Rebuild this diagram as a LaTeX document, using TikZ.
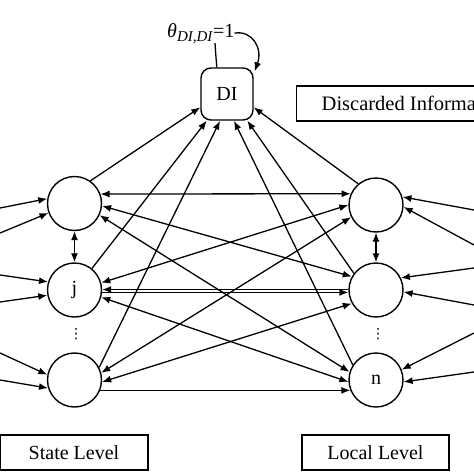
\documentclass[tikz,border=0pt]{standalone}
\usepackage{fontspec}
\setmainfont{Liberation Serif}
\newfontfamily\dejavu{DejaVu Sans}
\usetikzlibrary{arrows.meta,calc}
\begin{document}
\begin{tikzpicture}[x=1pt,y=-1pt,
  txt/.style={font=\fontsize{20}{24}\selectfont},
  circ/.style={circle,draw,line width=1.4pt,minimum size=54pt,inner sep=0pt,txt},
  arr/.style={line width=1.3pt,-{Latex[length=9pt,width=7pt]}},
  darr/.style={line width=1.3pt,{Latex[length=9pt,width=7pt]}-{Latex[length=9pt,width=7pt]}},
  plain/.style={line width=1.3pt},
  lbox/.style={draw,line width=1.4pt,minimum height=35pt,inner sep=0pt,txt}]
\useasboundingbox (0,0) rectangle (474,474);
\clip (0,0) rectangle (474,474);

% circles
\node[circ] (L1) at (74.5,203.5) {};
\node[circ] (Lj) at (74.5,290) {j};
\node[circ] (Lb) at (74.5,380) {};
\node[circ] (R1) at (376,205) {};
\node[circ] (Rj) at (376,290) {};
\node[circ] (Rn) at (376,380) {n};
\node[draw,line width=1.4pt,rounded corners=10pt,minimum width=52pt,minimum height=52pt,inner sep=0pt,txt] (DI) at (227,94) {DI};

% dots
\node[inner sep=0pt,font=\dejavu\fontsize{14}{14}\selectfont] (dL) at (76,334) {⋮};
\node[inner sep=0pt,font=\dejavu\fontsize{14}{14}\selectfont] (dR) at (378,334) {⋮};

% labels
\node[lbox,minimum width=148pt] (SL) at (74,452.5) {State Level};
\node[lbox,minimum width=147pt] (LL) at (375.5,452.5) {Local Level};
\node[lbox,anchor=west,inner xsep=25pt,font=\fontsize{20.5}{24}\selectfont] (DB) at (296,103.5) {Discarded Information};

% cross connections
\draw[darr] (L1.20) -- (R1.156);
\draw[darr] (L1.-5) -- (Rj.151);
\draw[darr] (L1.-25) -- (Rn.163);
\draw[darr] (Lj.15) -- (R1.180);
\draw[arr] (Rj.179) -- (Lj.1);
\draw[arr] (Lj.-5) -- (Rj.185);
\draw[darr] (Lj.-15) -- (Rn.184);
\draw[darr] (Lb.15) -- (R1.206);
\draw[darr] (Lb.-4) -- (Rj.209);
\draw[arr] (Lb.-22) -- (Rn.202);

% vertical
\draw[darr] (L1.south) -- (Lj.north);
\draw[darr] (R1.south) -- (Rj.north);

% to DI
\coordinate (DIl) at ($(DI.south west)!0.25!(DI.north west)$);
\coordinate (DIr) at ($(DI.south east)!0.25!(DI.north east)$);
\coordinate (DIb1) at ($(DI.south west)!0.12!(DI.south east)$);
\coordinate (DIb2) at ($(DI.south west)!0.37!(DI.south east)$);
\coordinate (DIb3) at ($(DI.south west)!0.63!(DI.south east)$);
\coordinate (DIb4) at ($(DI.south west)!0.88!(DI.south east)$);
\draw[arr] (L1.55) -- (DIl);
\draw[arr] (Lj.51) -- (DIb1);
\draw[arr] (Lb.27) -- (DIb2);
\draw[arr] (Rn.147) -- (DIb3);
\draw[arr] (Rj.143) -- (DIb4);
\draw[arr] (R1.130) -- (DIr);

% external inputs
\coordinate (xa) at (0,208);
\coordinate (xb) at (0,233);
\coordinate (xc) at (0,275);
\coordinate (xd) at (0,302);
\coordinate (xe) at (0,353);
\coordinate (xf) at (0,380);
\coordinate (ya) at (474,210);
\coordinate (yb) at (474,245);
\coordinate (yc) at (474,268);
\coordinate (yd) at (474,305);
\coordinate (ye) at (474,333);
\coordinate (yf) at (474,372);
\draw[arr] (xa) -- (L1.170);
\draw[arr] (xb) -- (L1.200);
\draw[arr] (xc) -- (Lj.163);
\draw[arr] (xd) -- (Lj.191);
\draw[arr] (xe) -- (Lb.169);
\draw[arr] (xf) -- (Lb.197);
\draw[arr] (ya) -- (R1.17);
\draw[arr] (yb) -- (R1.-4);
\draw[arr] (yc) -- (Rj.26);
\draw[arr] (yd) -- (Rj.-4);
\draw[arr] (ye) -- (Rn.22);
\draw[arr] (yf) -- (Rn.-4);

% self loop
\node[anchor=base west,inner sep=0pt,txt] (lab) at (167,37) {\textit{θ}\raisebox{-4pt}{\fontsize{15}{15}\selectfont\textit{DI,DI}}=1};
\coordinate (DIt) at ($(DI.north west)!0.31!(DI.north east)$);
\coordinate (DIe) at ($(DI.north east)+(1,4)$);
\draw[plain] (DIt) .. controls (216,58) .. (215,43);
\draw[arr] (lab.east) .. controls (252,30) and (263,48) .. (DIe);
\end{tikzpicture}
\end{document}
